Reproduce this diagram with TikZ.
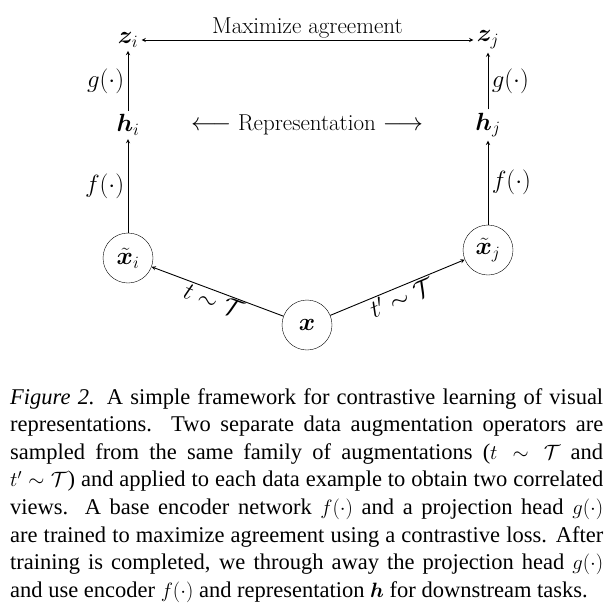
\documentclass[tikz,border=0pt]{standalone}
\usepackage{amsmath,bm}
\usepackage{fontspec}
\newfontfamily\capfont{Liberation Serif}
\begin{document}
\begin{tikzpicture}[x=1pt,y=-1pt,
  lab/.style={font=\fontsize{23}{27}\selectfont},
  circ/.style={draw,circle,minimum size=50pt,inner sep=0pt,font=\fontsize{23}{27}\selectfont},
  arr/.style={-stealth,line width=0.9pt}]
\useasboundingbox (0,0) rectangle (615,614);
\node[lab] (zi) at (128,40) {$\bm{z}_i$};
\node[lab] (zj) at (488,40) {$\bm{z}_j$};
\node[lab] (hi) at (128,125) {$\bm{h}_i$};
\node[lab] (hj) at (488,125) {$\bm{h}_j$};
\node[circ] (xi) at (128,258) {$\tilde{\bm{x}}_i$};
\node[circ] (xj) at (488,250) {$\tilde{\bm{x}}_j$};
\node[circ] (x) at (307,325) {$\bm{x}$};
\draw[arr,stealth-stealth] (zi) -- node[lab,above,inner sep=1pt] {Maximize agreement} (zj);
\node[lab] (rep) at (307,125) {$\longleftarrow$ Representation $\longrightarrow$};
\draw[arr] (hi) -- node[lab,left] {$g(\cdot)$} (zi);
\draw[arr] (hj) -- node[lab,right] {$g(\cdot)$} (zj);
\draw[arr] (xi) -- node[lab,left] {$f(\cdot)$} (hi);
\draw[arr] (xj) -- node[lab,right] {$f(\cdot)$} (hj);
\draw[arr] (x) -- node[lab,below,sloped,inner sep=1pt] {$t\sim\mathcal{T}$} (xi);
\draw[arr] (x) -- node[lab,below,sloped,inner sep=1pt] {$t'\sim\mathcal{T}$} (xj);
\node[anchor=north west,text width=593pt,inner sep=0pt,align=justify,font=\capfont\fontsize{22.5}{27.6}\selectfont] (cap) at (10,388)
{\emph{Figure 2.} A simple framework for contrastive learning of visual\linebreak
representations. Two separate data augmentation operators are\linebreak
sampled from the same family of augmentations ($t\sim\mathcal{T}$ and\linebreak
$t'\sim\mathcal{T}$) and applied to each data example to obtain two correlated\linebreak
views. A base encoder network $f(\cdot)$ and a projection head $g(\cdot)$\linebreak
are trained to maximize agreement using a contrastive loss. After\linebreak
training is completed, we through away the projection head $g(\cdot)$\linebreak
and use encoder $f(\cdot)$ and representation $\bm{h}$ for downstream tasks.};
\end{tikzpicture}
\end{document}
